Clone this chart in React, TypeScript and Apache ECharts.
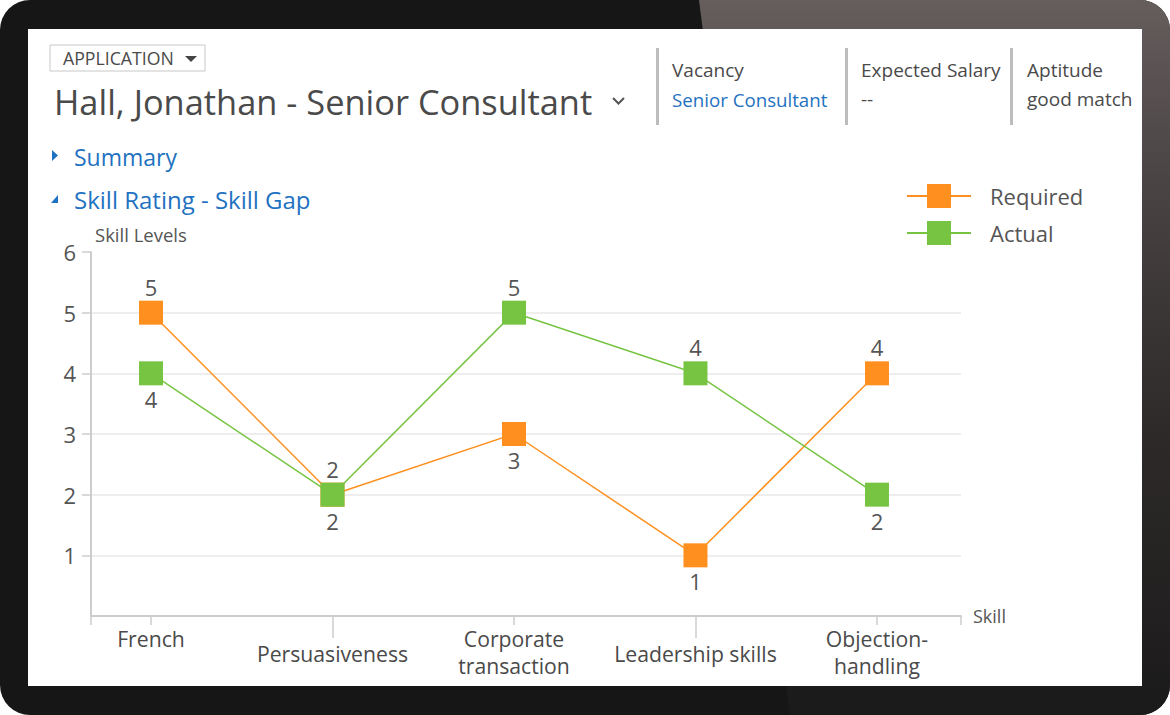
import React, { useEffect, useRef } from "react";
import * as echarts from "echarts";

const skills = ["French", "Persuasiveness", "Corporate\ntransaction", "Leadership skills", "Objection-\nhandling"];
const required = [5, 2, 3, 1, 4];
const actual = [4, 2, 5, 4, 2];
const yTicks = [0, 1, 2, 3, 4, 5, 6];

const FONT = "'Open Sans', 'Noto Sans', sans-serif";
const TXT = "#4a4a4a";
const BLUE = "#1f72c1";
const ORANGE = "#ff8f1f";
const GREEN = "#76c442";
const AX = "#cdcdcd";

const XMIN = -0.3306;
const XMAX = 4.463;

export default function App() {
  const ref = useRef<HTMLDivElement>(null);

  useEffect(() => {
    if (!ref.current) return;
    const chart = echarts.init(ref.current, null, { renderer: "svg" });
    const evenIdx = skills.map((_, i) => i).filter((i) => i % 2 === 0);
    const oddIdx = skills.map((_, i) => i).filter((i) => i % 2 === 1);

    const labelStyle = { show: true, fontSize: 22, color: "#555", fontFamily: FONT, distance: 3 };

    const option: any = {
      animation: false,
      textStyle: { fontFamily: FONT },
      graphic: [
        { type: "rect", shape: { x: 50, y: 45, width: 155, height: 26 }, style: { fill: "#fff", stroke: "#c8c8c8", lineWidth: 1 } },
        { type: "text", x: 63, y: 58, style: { text: "APPLICATION", fontSize: 17.7, fill: TXT, fontFamily: FONT, verticalAlign: "middle" } },
        { type: "polygon", shape: { points: [[185, 56], [197, 56], [191, 62]] }, style: { fill: "#444" } },
        { type: "text", x: 54, y: 101, style: { text: "Hall, Jonathan - Senior Consultant", fontSize: 34.4, fill: TXT, fontFamily: FONT, verticalAlign: "middle" } },
        { type: "polyline", shape: { points: [[613, 98], [618.5, 103.5], [624, 98]] }, style: { stroke: "#555", lineWidth: 2, fill: "none" } },
        { type: "rect", shape: { x: 656, y: 48, width: 3, height: 77 }, style: { fill: "#bdbdbd" } },
        { type: "rect", shape: { x: 845, y: 48, width: 3, height: 77 }, style: { fill: "#bdbdbd" } },
        { type: "rect", shape: { x: 1010, y: 48, width: 3, height: 77 }, style: { fill: "#bdbdbd" } },
        { type: "text", x: 672, y: 70, style: { text: "Vacancy", fontSize: 19, fill: TXT, fontFamily: FONT, verticalAlign: "middle" } },
        { type: "text", x: 672, y: 99, style: { text: "Senior Consultant", fontSize: 18.7, fill: BLUE, fontFamily: FONT, verticalAlign: "middle" } },
        { type: "text", x: 861, y: 70, style: { text: "Expected Salary", fontSize: 19, fill: TXT, fontFamily: FONT, verticalAlign: "middle" } },
        { type: "text", x: 861, y: 99, style: { text: "--", fontSize: 19, fill: TXT, fontFamily: FONT, verticalAlign: "middle" } },
        { type: "text", x: 1027, y: 70, style: { text: "Aptitude", fontSize: 19, fill: TXT, fontFamily: FONT, verticalAlign: "middle" } },
        { type: "text", x: 1027, y: 99, style: { text: "good match", fontSize: 19, fill: TXT, fontFamily: FONT, verticalAlign: "middle" } },
        { type: "polygon", shape: { points: [[52, 150], [52, 161], [58, 155.5]] }, style: { fill: BLUE } },
        { type: "text", x: 74, y: 157, style: { text: "Summary", fontSize: 23, fill: BLUE, fontFamily: FONT, verticalAlign: "middle" } },
        { type: "polygon", shape: { points: [[58, 195], [58, 203], [51, 203]] }, style: { fill: BLUE } },
        { type: "text", x: 74, y: 199, style: { text: "Skill Rating - Skill Gap", fontSize: 24, fill: BLUE, fontFamily: FONT, verticalAlign: "middle" } },
      ],
      legend: {
        left: 906,
        top: 184,
        padding: 0,
        orient: "vertical",
        itemWidth: 64,
        itemHeight: 30,
        itemGap: 13,
        textStyle: { fontSize: 22, color: "#555", fontFamily: FONT, padding: [0, 0, 0, 14] },
        data: ["Required", "Actual"],
      },
      grid: { left: 91, top: 252, width: 870, height: 364, containLabel: false, outerBoundsMode: "none" },
      xAxis: [
        {
          type: "value",
          min: XMIN,
          max: XMAX,
          position: "bottom",
          name: "Skill",
          nameLocation: "end",
          nameGap: 12,
          nameTextStyle: { fontSize: 18, color: "#555", fontFamily: FONT, padding: [6, 0, 0, 0] },
          axisLine: { show: true, onZero: false, lineStyle: { color: AX, width: 2 } },
          axisTick: { show: true, length: 9, customValues: [XMIN, ...evenIdx, XMAX], lineStyle: { color: AX, width: 1.5 } },
          axisLabel: {
            customValues: evenIdx,
            formatter: (v: number) => skills[Math.round(v)] ?? "",
            fontSize: 21.2,
            lineHeight: 27,
            color: TXT,
            margin: 9,
            fontFamily: FONT,
          },
          splitLine: { show: false },
        },
        {
          type: "value",
          min: XMIN,
          max: XMAX,
          position: "bottom",
          offset: 0,
          axisLine: { show: false, onZero: false },
          axisTick: { show: true, length: 22, customValues: oddIdx, lineStyle: { color: AX, width: 1.5 } },
          axisLabel: {
            customValues: oddIdx,
            formatter: (v: number) => skills[Math.round(v)] ?? "",
            fontSize: 21.2,
            lineHeight: 27,
            color: TXT,
            margin: 24,
            fontFamily: FONT,
          },
          splitLine: { show: false },
        },
      ],
      yAxis: {
        type: "value",
        min: yTicks[0],
        max: yTicks[yTicks.length - 1],
        interval: 1,
        name: "Skill Levels",
        nameLocation: "end",
        nameGap: 8,
        nameTextStyle: { fontSize: 18.5, color: "#555", fontFamily: FONT, align: "left", padding: [0, 0, 0, 4] },
        axisLine: { show: true, onZero: false, lineStyle: { color: AX, width: 2 } },
        axisTick: { show: true, length: 9, lineStyle: { color: AX, width: 1.5 } },
        axisLabel: { fontSize: 22, color: "#555", margin: 15, fontFamily: FONT, showMinLabel: false },
        splitLine: { show: true, showMinLine: false, showMaxLine: false, lineStyle: { color: "#e8e8e8", width: 1.5 } },
      },
      series: [
        {
          name: "Required",
          type: "line",
          xAxisIndex: 0,
          symbol: "rect",
          symbolSize: 24,
          color: ORANGE,
          lineStyle: { color: ORANGE, width: 1.5 },
          itemStyle: { color: ORANGE },
          label: labelStyle,
          z: 3,
          data: required.map((v, i) => ({ value: [i, v], label: { position: v >= actual[i] ? "top" : "bottom" } })),
        },
        {
          name: "Actual",
          type: "line",
          xAxisIndex: 0,
          symbol: "rect",
          symbolSize: 24,
          color: GREEN,
          lineStyle: { color: GREEN, width: 1.5 },
          itemStyle: { color: GREEN },
          label: labelStyle,
          z: 4,
          data: actual.map((v, i) => ({ value: [i, v], label: { position: v > required[i] ? "top" : "bottom" } })),
        },
      ],
    };
    chart.setOption(option);
    return () => chart.dispose();
  }, []);

  return (
    <div style={{ position: "fixed", left: 0, top: 0, width: 1170, height: 715, background: "#fff" }}>
      <div
        style={{
          position: "absolute",
          left: 0,
          top: 0,
          width: 1170,
          height: 715,
          borderRadius: 30,
          background: "#161616",
          overflow: "hidden",
        }}
      >
        <div
          style={{
            position: "absolute",
            left: 0,
            top: 0,
            width: 1170,
            height: 715,
            clipPath: "polygon(699px 0px, 1170px 0px, 1170px 715px, 790px 715px)",
            background: "linear-gradient(to bottom, #665d5d 0%, #4a4444 25%, #2e2a2a 60%, #1b1a1a 100%)",
          }}
        />
        <div style={{ position: "absolute", left: 28, top: 29, width: 1114, height: 657, background: "#fff" }} />
      </div>
      <div ref={ref} style={{ position: "absolute", left: 0, top: 0, width: 1170, height: 715 }} />
    </div>
  );
}
